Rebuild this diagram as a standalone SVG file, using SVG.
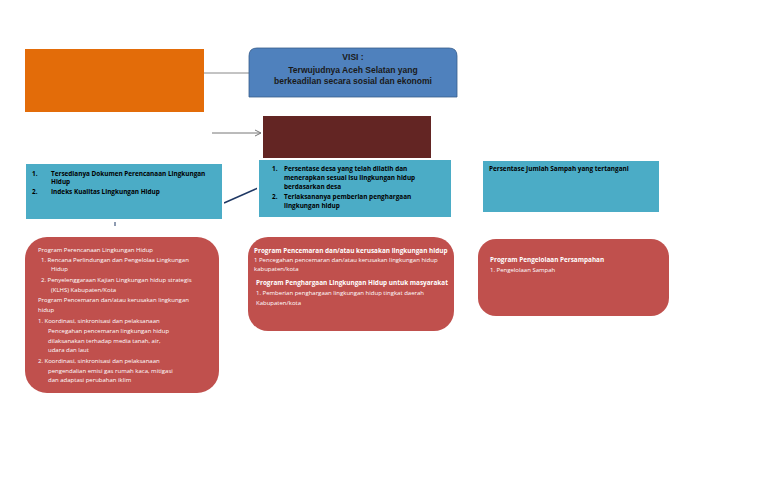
<svg xmlns="http://www.w3.org/2000/svg" width="768" height="489" viewBox="0 0 768 489">
<style>
.b{fill:#4bacc6;stroke:#fff;stroke-width:2}
.r{fill:#c0504d}
.t{font-family:"Open Sans","Liberation Sans",sans-serif;font-size:6.4px;fill:#000;font-weight:bold}
.w{font-family:"Open Sans","Liberation Sans",sans-serif;font-size:6px;fill:#fff}
.wb{font-family:"Open Sans","Liberation Sans",sans-serif;font-size:6.4px;fill:#fff;font-weight:bold}
</style>
<defs><marker id="a" markerWidth="8" markerHeight="8" refX="7" refY="4" orient="auto" markerUnits="userSpaceOnUse"><path d="M1,1 L7,4 L1,7" fill="none" stroke="#777" stroke-width="1"/></marker></defs>
<rect width="768" height="489" fill="#fff"/>
<g id="connectors">
<line x1="204" y1="73" x2="249" y2="73" stroke="#888" stroke-width="1"/>
<line x1="212" y1="133" x2="261" y2="133" stroke="#777" stroke-width="1" marker-end="url(#a)"/>
<line x1="224" y1="203" x2="258" y2="188" stroke="#1f3864" stroke-width="1.5"/>
<path d="M444,193 L450,200 L444,207" fill="none" stroke="#1f3864" stroke-width="1.3"/>
<line x1="115" y1="222" x2="115" y2="226" stroke="#1f3864" stroke-width="1"/>
</g>
<g id="misi"><rect x="25" y="49" width="179" height="63" fill="#e36c09"/></g>
<g id="visi"><path d="M249,97 V56 Q249,48 257,48 H449 Q457,48 457,56 V97 Z" fill="#4f81bd" stroke="#385d8a" stroke-width="0.8"/>
<text x="353" y="60" text-anchor="middle" font-family="Liberation Sans,sans-serif" font-size="8.5" font-weight="bold" fill="#1a1a1a">VISI :</text>
<text x="353" y="73" text-anchor="middle" font-family="Liberation Sans,sans-serif" font-size="8.5" font-weight="bold" fill="#1a1a1a">Terwujudnya Aceh Selatan yang</text>
<text x="353" y="84" text-anchor="middle" font-family="Liberation Sans,sans-serif" font-size="8.5" font-weight="bold" fill="#1a1a1a">berkeadilan secara sosial dan ekonomi</text></g>
<g id="tujuan"><rect x="263" y="116" width="168" height="42" fill="#632523"/></g>
<g id="ind1"><rect class="b" x="25" y="163" width="198" height="57"/>
<text class="t" x="32" y="176">1.</text><text class="t" x="51" y="176">Tersedianya Dokumen Perencanaan Lingkungan</text>
<text class="t" x="51" y="184">Hidup</text>
<text class="t" x="32" y="194">2.</text><text class="t" x="51" y="194">Indeks Kualitas Lingkungan Hidup</text></g>
<g id="ind2"><rect class="b" x="258" y="159" width="194" height="59"/>
<text class="t" x="272" y="171">1.</text><text class="t" x="284" y="171">Persentase desa yang telah dilatih dan</text>
<text class="t" x="284" y="180">menerapkan sesuai isu lingkungan hidup</text>
<text class="t" x="284" y="189">berdasarkan desa</text>
<text class="t" x="272" y="199">2.</text><text class="t" x="284" y="199">Terlaksananya pemberian penghargaan</text>
<text class="t" x="284" y="208">lingkungan hidup</text></g>
<g id="ind3"><rect class="b" x="482" y="160" width="178" height="53"/>
<text class="t" x="489" y="171">Persentase Jumlah Sampah yang tertangani</text></g>
<g id="prog1"><rect class="r" x="25" y="237" width="194" height="156" rx="22"/>
<text class="w" x="38" y="252" font-size="6.8">Program Perencanaan Lingkungan Hidup</text>
<text class="w" x="41" y="262">1.  Rencana Perlindungan dan Pengelolaa Lingkungan</text>
<text class="w" x="51" y="271">Hidup</text>
<text class="w" x="41" y="282">2.  Penyelenggaraan Kajian Lingkungan hidup strategis</text>
<text class="w" x="51" y="292">(KLHS) Kabupaten/Kota</text>
<text class="w" x="38" y="302">Program Pencemaran dan/atau kerusakan lingkungan</text>
<text class="w" x="38" y="312">hidup</text>
<text class="w" x="38" y="323" font-size="6.6">1.  Koordinasi, sinkronisasi dan pelaksanaan</text>
<text class="w" x="48" y="333" font-size="6.6">Pencegahan pencemaran lingkungan hidup</text>
<text class="w" x="48" y="343" font-size="6.6">dilaksanakan terhadap media tanah, air,</text>
<text class="w" x="48" y="352" font-size="6.6">udara dan laut</text>
<text class="w" x="38" y="363" font-size="6.6">2.  Koordinasi, sinkronisasi dan pelaksanaan</text>
<text class="w" x="48" y="373" font-size="6.6">pengendalian emisi gas rumah kaca, mitigasi</text>
<text class="w" x="48" y="382" font-size="6.6">dan adaptasi perubahan iklim</text></g>
<g id="prog2"><rect class="r" x="248" y="237" width="206" height="94" rx="20"/>
<text class="wb" x="254" y="253">Program  Pencemaran dan/atau kerusakan lingkungan hidup</text>
<text class="w" x="254" y="262">1 Pencegahan pencemaran dan/atau kerusakan lingkungan hidup</text>
<text class="w" x="254" y="271">kabupaten/kota</text>
<text class="wb" x="256" y="285">Program Penghargaan Lingkungan Hidup untuk masyarakat</text>
<text class="w" x="256" y="295">1.  Pemberian  penghargaan lingkungan hidup tingkat daerah</text>
<text class="w" x="256" y="305">Kabupaten/kota</text></g>
<g id="prog3"><rect class="r" x="478" y="239" width="191" height="77" rx="18"/>
<text class="wb" x="490" y="262">Program Pengelolaan Persampahan</text>
<text class="w" x="490" y="272" font-size="6.6">1. Pengelolaan Sampah</text></g>
</svg>
